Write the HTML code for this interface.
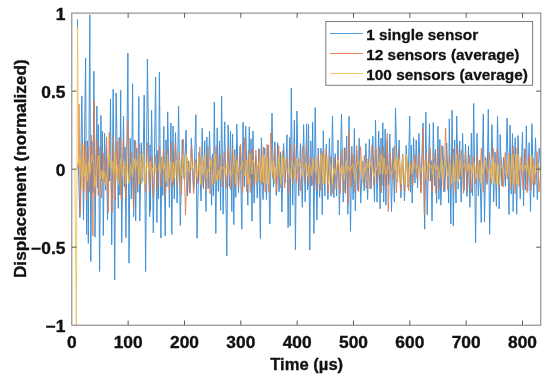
<!DOCTYPE html>
<html><head><meta charset="utf-8"><style>html,body{margin:0;padding:0;background:#fff;overflow:hidden}svg{display:block}</style></head><body>
<svg width="550" height="383" viewBox="0 0 550 383">
<rect width="550" height="383" fill="#fff"/>
<defs><clipPath id="cp"><rect x="71.8" y="13.1" width="469" height="312.1"/></clipPath></defs><g clip-path="url(#cp)">
<polyline points="77.55,19.30 77.55,30.00" fill="none" stroke="#4291d6" stroke-width="1.0" stroke-linejoin="round"/><polyline points="78.00,169.15 78.30,162.91 79.90,217.70 81.80,95.90 83.50,219.80 85.60,57.90 86.60,234.40 87.45,140.80 88.30,243.40 89.80,14.70 90.80,261.50 91.83,140.75 92.87,192.68 93.90,71.30 95.00,237.20 96.90,106.00 97.70,187.99 98.50,124.70 99.60,271.50 100.90,115.40 101.65,181.01 102.40,131.00 103.30,235.50 104.60,133.30 105.57,190.12 106.53,147.67 107.50,219.80 108.50,157.69 109.50,180.77 110.50,98.80 111.70,244.90 113.20,89.20 114.70,280.00 116.10,93.00 118.30,208.40 119.10,137.95 119.90,195.07 120.70,90.30 121.70,242.80 123.50,116.00 124.30,186.76 125.10,147.14 125.90,237.60 127.90,53.10 129.00,263.20 130.20,138.30 131.40,198.89 132.60,83.80 133.60,216.70 134.65,140.20 135.70,220.90 136.73,147.99 137.77,192.27 138.80,96.50 139.80,220.90 141.27,142.83 142.73,181.31 144.20,95.00 145.60,271.50 147.40,59.00 149.70,216.70 150.05,144.90 150.40,210.40 151.60,110.00 153.30,233.00 155.60,77.00 156.90,222.50 157.73,150.64 158.57,198.63 159.40,72.10 160.90,238.00 161.87,156.84 162.83,195.51 163.80,126.40 165.20,235.90 166.03,139.82 166.87,186.58 167.70,111.80 169.40,207.30 170.90,123.00 171.80,234.40 173.00,126.00 174.25,198.86 175.50,132.70 177.10,203.00 178.60,106.30 180.30,225.50 182.23,139.78 184.17,179.09 186.10,130.00 187.40,195.97 188.70,160.93 190.00,192.46 191.30,138.00 193.60,191.19 195.90,114.70 197.00,238.20 199.05,152.35 201.10,201.00 202.20,128.30 203.47,188.88 204.73,140.78 206.00,211.50 206.80,137.00 208.15,188.69 209.50,131.00 211.60,205.20 212.50,153.88 213.40,195.83 214.30,102.20 215.80,233.40 217.20,127.80 218.33,191.42 219.47,140.89 220.60,210.40 221.60,96.10 223.10,214.20 224.70,121.80 226.80,256.00 228.10,125.10 229.30,186.78 230.50,131.00 231.80,211.50 232.60,134.00 233.80,224.60 234.80,149.54 235.80,197.42 236.80,124.30 238.47,192.53 240.13,145.79 241.80,229.20 243.00,122.20 244.35,186.80 245.70,126.40 247.80,205.20 249.30,126.80 250.20,178.80 251.10,138.89 252.00,221.30 253.00,131.00 254.10,203.10 255.67,155.98 257.25,198.11 258.82,148.50 260.40,238.60 261.40,137.70 263.08,199.67 264.76,147.85 266.44,199.46 268.12,144.89 269.80,224.00 272.00,113.20 273.41,186.90 274.83,141.79 276.24,195.43 277.66,142.71 279.07,191.72 280.49,151.86 281.90,212.10 283.60,143.42 285.30,183.08 287.00,134.70 288.10,227.60 289.60,137.20 290.20,226.10 291.30,88.20 292.70,205.20 294.40,120.10 295.40,249.70 296.90,111.10 298.70,195.72 300.50,143.52 302.30,207.30 303.60,124.70 305.20,201.70 306.60,123.70 307.55,189.98 308.50,124.30 309.80,250.10 310.77,140.90 311.73,185.70 312.70,122.20 313.90,233.40 315.20,107.60 316.90,219.80 318.25,148.03 319.60,197.40 320.95,148.24 322.30,214.60 323.30,130.60 324.83,196.06 326.37,143.90 327.90,199.52 329.43,138.06 330.97,196.23 332.50,116.00 333.88,197.56 335.26,153.76 336.64,196.06 338.02,140.15 339.40,215.00 341.50,114.30 343.20,202.10 344.37,147.81 345.53,193.36 346.70,136.20 347.80,214.20 349.00,116.40 350.50,231.30 351.80,146.29 353.10,199.77 354.40,128.50 355.30,210.90 356.60,149.59 357.90,190.50 359.20,138.30 360.70,203.10 362.43,160.99 364.16,190.87 365.89,143.58 367.61,199.43 369.34,139.03 371.07,188.93 372.80,136.20 374.50,201.70 375.50,120.10 377.00,202.10 378.70,131.00 380.10,208.80 381.00,138.10 381.90,185.53 382.80,122.60 383.70,202.10 385.20,129.00 385.90,205.20 387.20,140.52 388.50,184.67 389.80,134.10 391.50,211.50 392.95,147.74 394.40,202.00 395.50,108.00 397.30,181.84 399.10,139.99 400.90,197.87 402.70,154.16 404.50,201.00 406.23,145.41 407.97,187.34 409.70,116.00 410.53,192.24 411.37,144.94 412.20,203.10 413.60,137.70 414.93,183.05 416.25,139.90 417.57,187.83 418.90,133.50 420.95,191.39 423.00,123.00 424.70,229.20 425.80,112.20 427.20,214.60 429.50,123.70 430.33,181.16 431.17,160.67 432.00,220.90 433.30,122.60 434.40,185.73 435.50,149.06 436.60,203.10 437.90,126.40 438.87,199.34 439.83,139.52 440.80,205.20 442.77,146.27 444.75,191.54 446.73,142.99 448.70,203.10 449.30,118.90 450.80,224.00 452.10,110.10 453.30,226.10 454.65,139.98 456.00,203.10 456.70,116.00 458.20,189.15 459.70,140.97 461.20,202.00 462.60,133.50 464.06,190.44 465.52,144.22 466.98,196.45 468.44,145.88 469.90,207.30 471.40,133.00 472.55,195.70 473.70,103.40 475.60,242.80 477.00,133.50 478.40,195.81 479.80,160.29 481.20,222.50 483.30,113.90 484.50,221.90 485.77,158.00 487.03,184.42 488.30,109.50 489.60,234.40 491.90,124.70 493.70,202.00 495.05,152.08 496.40,206.30 497.50,116.40 499.20,208.80 500.20,134.70 501.93,185.95 503.65,157.52 505.38,186.32 507.10,118.00 509.00,214.60 510.00,125.10 511.25,194.20 512.50,133.50 513.10,211.50 515.20,137.70 516.70,214.20 518.00,135.60 520.25,198.72 522.50,132.00 523.60,205.80 524.50,148.89 525.40,189.77 526.30,125.80 527.70,190.80 529.10,142.77 530.50,211.50 531.90,123.70 533.70,197.20 535.50,137.70 537.33,199.52 539.17,148.34 541.00,169.15" fill="none" stroke="#4291d6" stroke-width="1.0" stroke-linejoin="round"/>
<polyline points="78.20,169.15 79.00,104.00 80.30,214.20 82.03,142.81 83.77,191.29 85.50,141.30 86.40,200.40 88.03,146.41 89.65,192.02 91.28,135.01 92.90,236.00 94.10,100.50 95.47,197.30 96.83,140.24 98.20,195.20 99.88,147.33 101.56,198.04 103.24,153.39 104.92,181.91 106.60,136.80 108.20,212.80 109.20,132.20 112.10,212.20 113.40,136.80 115.10,199.78 116.80,141.70 118.30,178.74 119.80,136.98 121.30,199.10 123.47,139.61 125.63,197.85 127.80,120.50 129.73,180.87 131.67,152.15 133.60,210.40 135.59,140.31 137.58,190.83 139.58,144.13 141.57,183.23 143.56,153.31 145.55,191.49 147.54,142.68 149.54,191.96 151.53,155.99 153.52,196.65 155.51,155.16 157.50,189.65 159.50,146.29 161.49,187.09 163.48,149.44 165.47,195.88 167.46,149.06 169.46,190.52 171.45,141.88 173.44,185.52 175.43,143.20 177.42,186.96 179.42,152.40 181.41,194.40 183.40,139.00 185.50,214.60 187.54,158.80 189.58,193.49 191.62,145.47 193.67,193.47 195.71,159.30 197.75,183.44 199.79,146.82 201.83,186.79 203.87,162.10 205.91,190.41 207.96,146.53 210.00,193.82 212.04,156.89 214.08,183.58 216.12,146.03 218.16,179.86 220.20,154.29 222.24,187.02 224.29,151.81 226.33,188.37 228.37,145.70 230.41,189.60 232.45,148.39 234.49,189.07 236.53,155.55 238.58,186.98 240.62,144.32 242.66,193.08 244.70,137.70 246.56,191.37 248.43,150.06 250.29,192.60 252.16,148.70 254.02,186.16 255.89,150.17 257.75,182.49 259.61,149.50 261.48,184.73 263.34,146.76 265.21,192.11 267.07,144.25 268.94,192.20 270.80,133.00 272.78,178.83 274.76,147.48 276.74,191.87 278.72,145.66 280.70,187.62 282.68,150.91 284.66,188.20 286.64,156.79 288.62,193.63 290.59,144.33 292.57,183.79 294.55,144.67 296.53,182.70 298.51,158.65 300.49,190.92 302.47,146.33 304.45,182.52 306.43,144.71 308.41,186.19 310.39,156.09 312.37,184.50 314.35,157.85 316.33,191.42 318.31,154.08 320.29,190.42 322.27,151.14 324.25,180.77 326.23,149.30 328.21,193.75 330.18,156.11 332.16,193.69 334.14,157.71 336.12,188.85 338.10,156.36 340.08,194.07 342.06,149.83 344.04,192.64 346.02,147.69 348.00,204.20 349.00,131.00 350.92,186.97 352.83,154.57 354.75,192.64 356.66,145.50 358.57,191.57 360.49,146.44 362.41,178.18 364.32,155.38 366.24,188.54 368.15,158.84 370.06,189.04 371.98,144.78 373.89,185.43 375.81,147.91 377.73,182.56 379.64,146.57 381.56,192.93 383.47,146.34 385.38,186.85 387.30,133.50 388.20,211.50 390.25,152.96 392.29,179.62 394.34,145.95 396.39,193.02 398.44,149.71 400.48,191.33 402.53,155.20 404.58,191.22 406.62,154.76 408.67,190.88 410.72,161.59 412.76,185.95 414.81,154.99 416.86,178.12 418.91,154.57 420.95,193.19 423.00,127.80 424.30,214.60 426.24,153.77 428.17,180.55 430.11,148.22 432.05,191.43 433.98,153.02 435.92,193.24 437.85,147.83 439.79,188.30 441.73,145.37 443.66,191.88 445.60,127.80 447.59,189.23 449.58,154.73 451.56,188.08 453.55,148.84 455.54,192.93 457.53,144.88 459.51,178.90 461.50,150.16 463.49,193.40 465.48,151.61 467.46,191.20 469.45,155.16 471.44,192.63 473.43,156.34 475.41,183.77 477.40,154.84 479.39,181.20 481.38,148.19 483.36,192.29 485.35,156.73 487.34,182.50 489.33,152.14 491.31,184.50 493.30,148.61 495.29,180.56 497.28,149.37 499.26,187.80 501.25,157.73 503.24,186.96 505.23,152.52 507.21,179.11 509.20,153.35 511.19,189.76 513.17,145.62 515.16,193.58 517.15,147.32 519.14,186.33 521.12,156.94 523.11,190.29 525.10,149.50 527.09,192.51 529.08,154.64 531.06,189.94 533.05,158.39 535.04,184.66 537.02,151.60 539.01,191.84 541.00,169.15" fill="none" stroke="#e27a48" stroke-width="0.85" stroke-linejoin="round"/>
<polyline points="74.80,169.15 76.30,325.20 77.55,27.10 78.50,164.47 80.15,158.02 81.98,188.35 83.24,144.81 84.15,176.59 86.00,164.40 87.27,181.25 88.47,161.53 89.98,173.25 92.07,154.91 93.72,162.23 94.88,187.41 96.51,171.62 97.46,166.62 98.92,155.55 100.57,179.50 102.07,170.33 102.98,179.73 104.71,171.90 106.06,185.54 107.95,168.98 109.17,155.04 110.68,167.44 112.35,161.47 113.36,173.76 114.87,151.56 116.20,179.55 117.18,165.04 118.46,185.54 120.34,158.86 122.42,175.27 124.04,161.02 125.76,183.83 127.18,163.50 128.57,183.11 130.63,164.66 132.33,177.42 134.28,158.74 135.34,169.40 137.37,159.49 138.96,184.36 140.09,153.94 141.65,184.36 143.61,153.94 145.20,184.22 146.59,163.19 147.54,165.11 149.00,171.27 150.28,161.57 151.21,178.20 152.15,170.73 154.21,164.19 155.62,172.56 157.57,170.07 159.18,164.12 160.51,172.73 162.32,156.71 163.41,168.96 164.31,163.38 166.19,182.27 167.59,153.94 168.50,178.31 170.36,161.51 172.13,181.66 173.27,162.34 174.38,178.20 176.42,160.19 177.73,181.66 179.77,160.44 181.85,175.75 183.37,154.58 185.16,178.91 186.57,153.94 187.97,171.43 188.95,168.97 190.47,158.74 191.68,170.31 193.39,163.14 195.04,162.92 196.34,176.51 197.49,173.78 198.64,155.72 200.55,184.36 202.17,157.47 203.79,174.77 205.06,153.94 206.51,178.32 208.18,169.21 209.15,171.17 210.97,160.15 212.74,184.36 214.74,153.94 216.69,180.78 218.69,170.46 219.63,179.33 220.83,166.89 221.96,169.39 222.90,166.84 224.00,166.83 224.93,175.44 226.95,163.22 228.83,170.19 230.46,175.54 232.05,174.81 233.91,153.94 235.84,184.36 237.14,161.24 238.18,172.52 240.04,170.82 241.97,160.86 243.03,169.53 244.98,175.93 246.57,160.48 248.20,184.36 249.90,153.94 251.79,174.22 253.08,159.90 255.02,167.35 256.11,181.67 257.79,165.82 259.37,161.41 260.73,181.13 262.17,155.88 263.20,182.56 264.26,154.62 266.15,183.66 267.50,156.62 268.66,184.36 269.95,157.97 270.95,172.17 272.54,171.42 273.54,161.17 274.60,184.12 275.65,166.98 277.64,176.29 278.91,155.65 280.55,184.36 281.97,153.94 283.32,176.39 284.34,158.04 286.17,170.41 287.88,171.17 288.86,167.10 290.67,178.03 291.89,161.20 293.68,166.23 294.73,178.88 296.59,157.98 298.36,166.46 300.39,163.28 302.22,176.31 303.89,170.81 305.70,161.79 307.47,176.33 308.82,165.28 309.76,164.18 311.31,175.76 312.87,158.68 314.23,169.79 316.23,171.27 317.29,161.36 319.39,183.62 321.14,153.94 323.15,184.36 324.16,153.94 325.20,184.36 326.79,158.24 328.59,184.36 330.58,163.60 332.41,183.71 333.87,168.44 335.15,174.11 336.92,166.23 337.88,159.89 339.85,166.81 341.05,173.50 342.22,174.45 343.16,164.83 344.21,180.18 346.14,160.69 347.26,171.94 348.48,166.29 349.72,171.06 351.37,166.77 352.75,164.24 354.69,180.58 355.76,169.06 357.83,158.89 359.01,166.36 360.16,171.23 361.66,157.77 362.61,182.57 364.22,168.56 365.41,170.44 367.37,162.01 369.26,168.75 371.01,161.28 372.73,169.93 373.99,176.31 375.80,171.24 377.80,165.21 379.10,162.08 380.18,174.47 381.19,154.00 382.78,174.16 384.02,158.08 385.76,174.65 387.81,166.31 389.20,166.92 391.11,174.79 392.81,171.45 394.37,161.01 395.35,170.33 396.27,157.48 397.73,180.62 399.49,159.43 401.27,184.36 402.85,155.62 404.87,184.36 406.31,153.94 407.87,184.36 409.48,163.48 410.62,164.82 411.75,173.68 413.55,160.67 415.12,168.75 416.58,166.66 418.46,166.98 420.13,173.09 421.70,168.43 423.49,172.52 424.95,160.47 426.46,179.88 428.35,163.35 430.26,167.11 431.70,165.80 432.64,174.41 434.57,163.08 436.14,170.15 437.86,166.39 439.26,178.77 440.51,166.31 441.93,159.74 443.25,177.91 444.60,160.24 446.64,167.17 447.99,176.19 449.95,163.66 451.67,183.53 453.61,162.03 455.11,181.92 456.51,153.94 458.40,181.94 460.22,159.90 461.57,175.48 462.71,168.38 464.46,163.43 465.43,168.28 467.31,171.13 468.29,163.28 469.48,170.49 470.83,164.87 472.04,173.12 473.57,162.90 474.72,163.33 475.96,178.35 477.17,171.92 478.58,160.57 480.33,183.14 481.39,162.14 483.22,175.04 485.22,160.78 486.87,169.58 488.67,172.46 489.88,167.96 491.36,178.49 492.79,158.41 493.86,184.36 494.97,162.05 497.02,184.36 498.14,164.82 499.61,183.97 501.06,165.19 502.28,165.47 503.40,169.35 504.79,170.92 506.67,175.67 508.68,154.72 510.38,184.36 512.08,154.63 513.90,184.36 515.95,153.94 516.99,184.36 517.92,153.94 519.92,169.86 521.56,164.70 523.27,171.07 525.31,165.09 526.62,172.10 527.54,161.55 529.27,177.08 531.19,156.82 532.50,184.36 533.56,164.37 534.82,174.20 536.84,170.29 538.81,164.01 540.74,175.53 541.64,157.33 542.84,184.36" fill="none" stroke="#f0bc45" stroke-width="0.8" stroke-linejoin="round"/>
</g>
<rect x="71.8" y="13.1" width="468.99999999999994" height="312.09999999999997" fill="none" stroke="#7c7c7c" stroke-width="1"/>
<path d="M128.14 325.2v-4.7M128.14 13.1v4.7M184.48 325.2v-4.7M184.48 13.1v4.7M240.81 325.2v-4.7M240.81 13.1v4.7M297.15 325.2v-4.7M297.15 13.1v4.7M353.49 325.2v-4.7M353.49 13.1v4.7M409.83 325.2v-4.7M409.83 13.1v4.7M466.17 325.2v-4.7M466.17 13.1v4.7M522.50 325.2v-4.7M522.50 13.1v4.7M71.8 247.18h4.7M540.8 247.18h-4.7M71.8 169.15h4.7M540.8 169.15h-4.7M71.8 91.13h4.7M540.8 91.13h-4.7" stroke="#5a5a5a" stroke-width="1" fill="none"/>
<g style="font-family:'Liberation Sans',Arial,sans-serif;font-weight:bold" fill="#111" stroke="#111" stroke-width="0.35">
<text x="71.80" y="347.8" font-size="16.3" text-anchor="middle" transform="translate(71.80 0) scale(1.066 1) translate(-71.80 0)">0</text>
<text x="128.14" y="347.8" font-size="16.3" text-anchor="middle" transform="translate(128.14 0) scale(1.066 1) translate(-128.14 0)">100</text>
<text x="184.48" y="347.8" font-size="16.3" text-anchor="middle" transform="translate(184.48 0) scale(1.066 1) translate(-184.48 0)">200</text>
<text x="240.81" y="347.8" font-size="16.3" text-anchor="middle" transform="translate(240.81 0) scale(1.066 1) translate(-240.81 0)">300</text>
<text x="297.15" y="347.8" font-size="16.3" text-anchor="middle" transform="translate(297.15 0) scale(1.066 1) translate(-297.15 0)">400</text>
<text x="353.49" y="347.8" font-size="16.3" text-anchor="middle" transform="translate(353.49 0) scale(1.066 1) translate(-353.49 0)">500</text>
<text x="409.83" y="347.8" font-size="16.3" text-anchor="middle" transform="translate(409.83 0) scale(1.066 1) translate(-409.83 0)">600</text>
<text x="466.17" y="347.8" font-size="16.3" text-anchor="middle" transform="translate(466.17 0) scale(1.066 1) translate(-466.17 0)">700</text>
<text x="522.50" y="347.8" font-size="16.3" text-anchor="middle" transform="translate(522.50 0) scale(1.066 1) translate(-522.50 0)">800</text>
<text x="65.4" y="19.80" font-size="16.3" text-anchor="end" transform="translate(65.4 0) scale(1.066 1) translate(-65.4 0)">1</text>
<text x="65.4" y="97.83" font-size="16.3" text-anchor="end" transform="translate(65.4 0) scale(1.066 1) translate(-65.4 0)">0.5</text>
<text x="65.4" y="175.85" font-size="16.3" text-anchor="end" transform="translate(65.4 0) scale(1.066 1) translate(-65.4 0)">0</text>
<text x="65.4" y="253.88" font-size="16.3" text-anchor="end" transform="translate(65.4 0) scale(1.066 1) translate(-65.4 0)">−0.5</text>
<text x="65.4" y="331.90" font-size="16.3" text-anchor="end" transform="translate(65.4 0) scale(1.066 1) translate(-65.4 0)">−1</text>
<text x="306.7" y="370" font-size="16.6" text-anchor="middle">Time (µs)</text>
<text transform="translate(25.9 168.7) rotate(-90)" x="0" y="0" font-size="17.2" text-anchor="middle">Displacement (normalized)</text>
</g>
<rect x="325.8" y="21.5" width="206.8" height="63.8" fill="#fff" stroke="#7c7c7c" stroke-width="1"/>
<path d="M330 33.50H362.8" stroke="#4f9dd8" stroke-width="1"/>
<path d="M330 53.50H362.8" stroke="#ec825c" stroke-width="1"/>
<path d="M330 73.50H362.8" stroke="#f2c85e" stroke-width="1"/>
<g style="font-family:'Liberation Sans',Arial,sans-serif;font-weight:bold" fill="#111" stroke="#111" stroke-width="0.3" font-size="15.4">
<text x="366.2" y="39.90">1 single sensor</text>
<text x="366.2" y="59.95">12 sensors (average)</text>
<text x="366.2" y="80.00">100 sensors (average)</text>
</g>
</svg>
</body></html>
